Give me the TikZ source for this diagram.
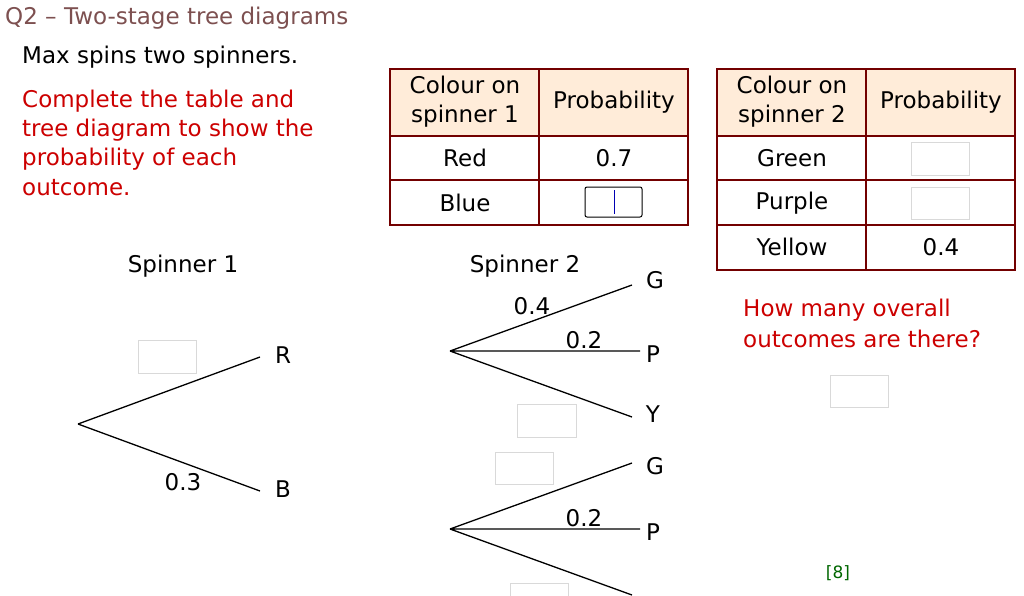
\documentclass[tikz,border=0pt]{standalone}
\usepackage{fontspec}
\setmainfont{DejaVu Sans}
\begin{document}
\begin{tikzpicture}[x=1pt,y=-1pt,
  txt/.style={inner sep=0pt,font=\fontsize{23}{29}\selectfont},
  lt/.style={txt,anchor=west},
  red/.style={text=red!80!black},
  cell/.style={draw=red!45!black,line width=2.2pt},
  hdr/.style={cell,fill=orange!15},
  ibox/.style={draw=black!15,line width=0.8pt},
  br/.style={line width=1.3pt}]
\useasboundingbox (0,0) rectangle (1024,595);
\clip (0,0) rectangle (1024,595);
\node[lt,text={rgb,255:red,125;green,80;blue,80}] (title) at (5,18) {Q2 -- Two-stage tree diagrams};
\node[lt] (max) at (22,57) {Max spins two spinners.};
\node[lt,red] (c1) at (22,101) {Complete the table and};
\node[lt,red] (c2) at (22,130) {tree diagram to show the};
\node[lt,red] (c3) at (22,159) {probability of each};
\node[lt,red] (c4) at (22,188) {outcome.};
% table 1
\path[hdr] (390,69) rectangle (688,136);
\draw[cell] (390,136) rectangle (688,225) (390,180)--(688,180) (539,69)--(539,225);
\node[txt,align=center] (h1) at (465,102) {Colour on\\spinner 1};
\node[txt] (h2) at (614,102) {Probability};
\node[txt] (r1) at (465,158) {Red};
\node[txt] (p1) at (614,158) {0.7};
\node[txt] (r2) at (465,203) {Blue};
\draw[rounded corners=2pt,line width=1pt] (585,187) rectangle (642,217);
\draw[blue!70!black,line width=1pt] (614,190)--(614,214);
% table 2
\path[hdr] (717,69) rectangle (1015,136);
\draw[cell] (717,136) rectangle (1015,270) (717,180)--(1015,180) (717,225)--(1015,225) (866,69)--(866,270);
\node[txt,align=center] (k1) at (792,102) {Colour on\\spinner 2};
\node[txt] (k2) at (941,102) {Probability};
\node[txt] (s1) at (792,158) {Green};
\node[txt] (s2) at (792,203) {Purple};
\node[txt] (s3) at (792,247) {Yellow};
\node[txt] (q3) at (941,247) {0.4};
\draw[ibox] (911,142) rectangle (969,175) (911,187) rectangle (969,219);
% spinner 1
\node[txt] (sp1) at (183,266) {Spinner 1};
\coordinate (a0) at (78,424);
\coordinate (aR) at (260,357);
\coordinate (aB) at (260,491);
\draw[br] (a0)--(aR) (a0)--(aB);
\node[txt] (lR) at (283,355) {R};
\node[txt] (lB) at (283,489) {B};
\draw[ibox] (138,340) rectangle (196,373);
\node[txt] (p03) at (183,482) {0.3};
% spinner 2
\node[txt] (sp2) at (525,266) {Spinner 2};
\coordinate (b0) at (450,351);
\coordinate (bG) at (632,285);
\coordinate (bP) at (640,351);
\coordinate (bY) at (632,417);
\draw[br] (b0)--(bG) (b0)--(bP) (b0)--(bY);
\node[txt] (lG1) at (655,280) {G};
\node[txt] (lP1) at (653,354) {P};
\node[txt] (lY1) at (653,414) {Y};
\node[txt] (p04) at (532,306) {0.4};
\node[txt] (p02a) at (584,340) {0.2};
\draw[ibox] (517,404) rectangle (576,437);
\coordinate (c0) at (450,529);
\coordinate (cG) at (632,463);
\coordinate (cP) at (640,529);
\coordinate (cY) at (632,595);
\draw[br] (c0)--(cG) (c0)--(cP) (c0)--(cY);
\node[txt] (lG2) at (655,466) {G};
\node[txt] (lP2) at (653,532) {P};
\node[txt] (lY2) at (655,605) {Y};
\node[txt] (p02b) at (584,518) {0.2};
\draw[ibox] (495,452) rectangle (553,484) (510,583) rectangle (568,616);
% right
\node[lt,red] (hm1) at (743,310) {How many overall};
\node[lt,red] (hm2) at (743,339) {outcomes are there?};
\draw[ibox] (830,375) rectangle (888,407);
\node[txt,font=\fontsize{17}{20}\selectfont,text=green!40!black] (mk) at (838,573) {[8]};
\end{tikzpicture}
\end{document}
